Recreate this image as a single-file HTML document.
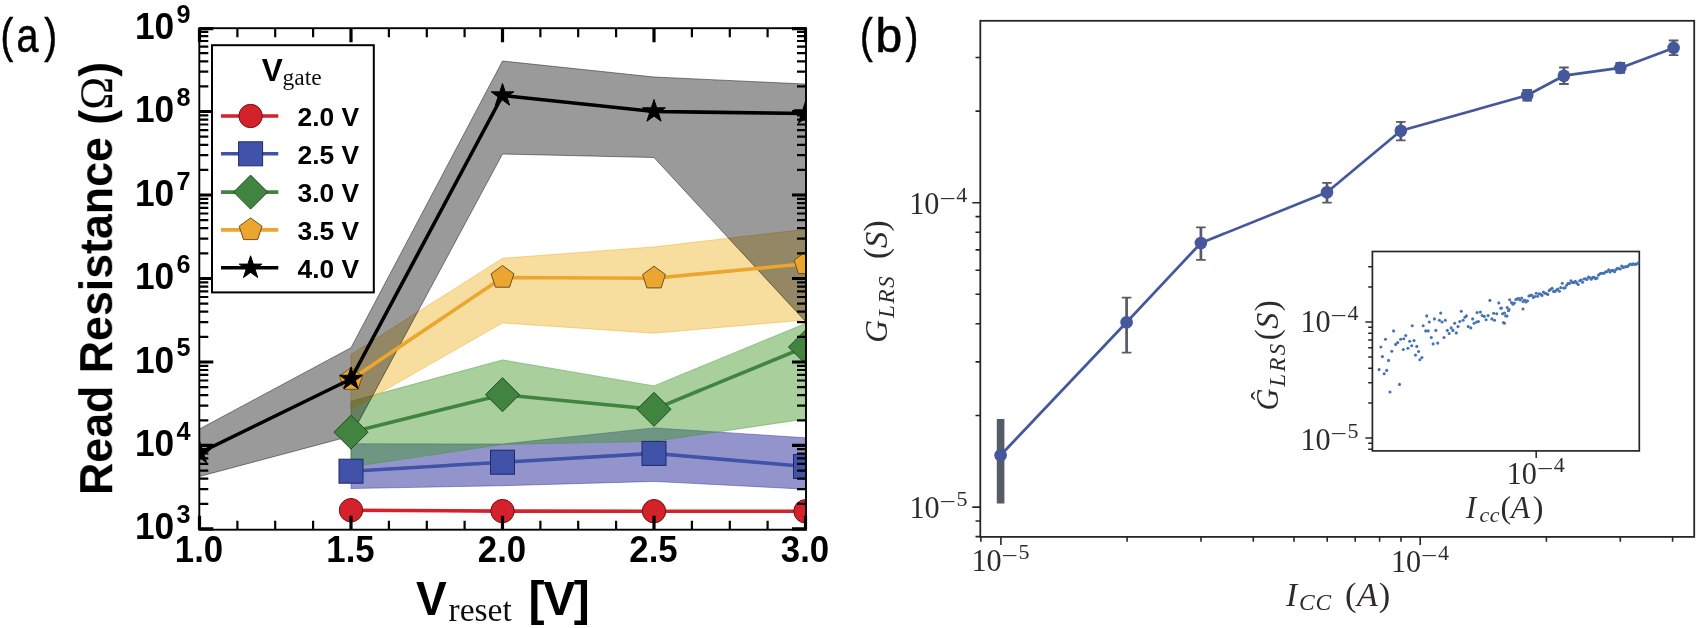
<!DOCTYPE html>
<html lang="en"><head><meta charset="utf-8"><title>Figure: read resistance vs reset voltage and LRS conductance vs compliance current</title>
<style>html,body{margin:0;padding:0;background:#fff;}body{width:1699px;height:628px;overflow:hidden;}svg{display:block;}text{white-space:pre;}</style>
</head><body>
<svg width="1699" height="628" viewBox="0 0 1699 628">
<rect x="0" y="0" width="1699" height="628" fill="#ffffff"/>
<defs><clipPath id="clipA"><rect x="199.3" y="28.2" width="606.7" height="501.5"/></clipPath>
<clipPath id="clipI"><rect x="1372.5" y="251.5" width="266.8" height="198.7"/></clipPath>
<filter id="soft" x="0" y="0" width="1699" height="628" filterUnits="userSpaceOnUse"><feGaussianBlur stdDeviation="0.55"/></filter></defs>
<g filter="url(#soft)">
<g font-family='"Liberation Sans", Arial, Helvetica, sans-serif' font-size="48" fill="#000" stroke="#000" stroke-width="0.6" stroke-linejoin="round"><text transform="translate(0.6,51.8) scale(0.8,1)">(</text><text transform="translate(16.6,51.8) scale(0.82,1)">a</text><text transform="translate(44.2,51.8) scale(0.8,1)">)</text></g>
<g clip-path="url(#clipA)">
<polygon points="351,443.8 502.5,444 654,427.9 805.5,437.8 805.5,489.2 654,481.4 502.5,485.7 351,488.5" fill="#2d2d9b" fill-opacity="0.5" stroke="#2d2d9b" stroke-opacity="0.45" stroke-width="1"/>
<polygon points="351,401.3 502.5,359.9 654,385.9 805.5,323.4 805.5,419 654,441.4 502.5,444.5 351,466.9" fill="#3e9727" fill-opacity="0.45" stroke="#3e9727" stroke-opacity="0.45" stroke-width="1"/>
<polygon points="351,354.4 502.5,258.3 654,246.9 805.5,229.3 805.5,319.9 654,333.2 502.5,322.9 351,409.5" fill="#ecae1d" fill-opacity="0.42" stroke="#ecae1d" stroke-opacity="0.45" stroke-width="1"/>
<polygon points="199.5,429 351,347.7 502.5,61 654,77 805.5,84 805.5,321.5 654,157.5 502.5,154 351,436 199.5,476.5" fill="#000000" fill-opacity="0.395" stroke="#000000" stroke-opacity="0.45" stroke-width="1"/>
<polyline points="351,510.2 502.5,511.1 654,511.2 805.5,511.3" fill="none" stroke="#d3202a" stroke-width="3.6" stroke-linejoin="round"/>
<circle cx="351" cy="510.2" r="11.7" fill="#d3202a" stroke="#6e1216" stroke-width="1.0"/>
<circle cx="502.5" cy="511.1" r="11.7" fill="#d3202a" stroke="#6e1216" stroke-width="1.0"/>
<circle cx="654" cy="511.2" r="11.7" fill="#d3202a" stroke="#6e1216" stroke-width="1.0"/>
<circle cx="805.5" cy="511.3" r="11.7" fill="#d3202a" stroke="#6e1216" stroke-width="1.0"/>
<polyline points="351,471.2 502.5,462.2 654,453.4 805.5,466.5" fill="none" stroke="#4152a8" stroke-width="3.6" stroke-linejoin="round"/>
<rect x="339" y="459.2" width="24" height="24" fill="#4152a8" stroke="#1f2a66" stroke-width="1.0"/>
<rect x="490.5" y="450.2" width="24" height="24" fill="#4152a8" stroke="#1f2a66" stroke-width="1.0"/>
<rect x="642" y="441.4" width="24" height="24" fill="#4152a8" stroke="#1f2a66" stroke-width="1.0"/>
<rect x="793.5" y="454.5" width="24" height="24" fill="#4152a8" stroke="#1f2a66" stroke-width="1.0"/>
<polyline points="351,432.2 502.5,394.7 654,409.3 805.5,347" fill="none" stroke="#40843f" stroke-width="3.6" stroke-linejoin="round"/>
<polygon points="351,415.2 368,432.2 351,449.2 334,432.2" fill="#40843f" stroke="#1d4a22" stroke-width="1.0"/>
<polygon points="502.5,377.7 519.5,394.7 502.5,411.7 485.5,394.7" fill="#40843f" stroke="#1d4a22" stroke-width="1.0"/>
<polygon points="654,392.3 671,409.3 654,426.3 637,409.3" fill="#40843f" stroke="#1d4a22" stroke-width="1.0"/>
<polygon points="805.5,330 822.5,347 805.5,364 788.5,347" fill="#40843f" stroke="#1d4a22" stroke-width="1.0"/>
<polyline points="351,379.6 502.5,277.5 654,278.2 805.5,263.8" fill="none" stroke="#eaa62d" stroke-width="3.6" stroke-linejoin="round"/>
<polygon points="351,367.6 362.4,375.9 358.1,389.3 343.9,389.3 339.6,375.9" fill="#eaa62d" stroke="#6b5223" stroke-width="1.0"/>
<polygon points="502.5,265.5 513.9,273.8 509.6,287.2 495.4,287.2 491.1,273.8" fill="#eaa62d" stroke="#6b5223" stroke-width="1.0"/>
<polygon points="654,266.2 665.4,274.5 661.1,287.9 646.9,287.9 642.6,274.5" fill="#eaa62d" stroke="#6b5223" stroke-width="1.0"/>
<polygon points="805.5,251.8 816.9,260.1 812.6,273.5 798.4,273.5 794.1,260.1" fill="#eaa62d" stroke="#6b5223" stroke-width="1.0"/>
<polyline points="199.5,453 351,379 502.5,95.5 654,111.5 805.5,113.5" fill="none" stroke="#000000" stroke-width="3.6" stroke-linejoin="round"/>
<polygon points="199.5,441 202.2,449.3 210.9,449.3 203.9,454.4 206.6,462.7 199.5,457.6 192.4,462.7 195.1,454.4 188.1,449.3 196.8,449.3" fill="#000000" stroke="#000000" stroke-width="1.0"/>
<polygon points="351,367 353.7,375.3 362.4,375.3 355.4,380.4 358.1,388.7 351,383.6 343.9,388.7 346.6,380.4 339.6,375.3 348.3,375.3" fill="#000000" stroke="#000000" stroke-width="1.0"/>
<polygon points="502.5,83.5 505.2,91.8 513.9,91.8 506.9,96.9 509.6,105.2 502.5,100.1 495.4,105.2 498.1,96.9 491.1,91.8 499.8,91.8" fill="#000000" stroke="#000000" stroke-width="1.0"/>
<polygon points="654,99.5 656.7,107.8 665.4,107.8 658.4,112.9 661.1,121.2 654,116.1 646.9,121.2 649.6,112.9 642.6,107.8 651.3,107.8" fill="#000000" stroke="#000000" stroke-width="1.0"/>
<polygon points="805.5,101.5 808.2,109.8 816.9,109.8 809.9,114.9 812.6,123.2 805.5,118.1 798.4,123.2 801.1,114.9 794.1,109.8 802.8,109.8" fill="#000000" stroke="#000000" stroke-width="1.0"/>
</g>
<path d="M237.4 529.7v-9M237.4 28.2v9M275.2 529.7v-9M275.2 28.2v9M313.1 529.7v-9M313.1 28.2v9M388.9 529.7v-9M388.9 28.2v9M426.8 529.7v-9M426.8 28.2v9M464.6 529.7v-9M464.6 28.2v9M540.4 529.7v-9M540.4 28.2v9M578.2 529.7v-9M578.2 28.2v9M616.1 529.7v-9M616.1 28.2v9M691.9 529.7v-9M691.9 28.2v9M729.8 529.7v-9M729.8 28.2v9M767.6 529.7v-9M767.6 28.2v9M199.3 503.8h9M806 503.8h-9M199.3 489.1h9M806 489.1h-9M199.3 478.6h9M806 478.6h-9M199.3 470.6h9M806 470.6h-9M199.3 463.9h9M806 463.9h-9M199.3 458.4h9M806 458.4h-9M199.3 453.5h9M806 453.5h-9M199.3 449.2h9M806 449.2h-9M199.3 420.3h9M806 420.3h-9M199.3 405.6h9M806 405.6h-9M199.3 395.2h9M806 395.2h-9M199.3 387.1h9M806 387.1h-9M199.3 380.5h9M806 380.5h-9M199.3 374.9h9M806 374.9h-9M199.3 370h9M806 370h-9M199.3 365.8h9M806 365.8h-9M199.3 336.8h9M806 336.8h-9M199.3 322.1h9M806 322.1h-9M199.3 311.7h9M806 311.7h-9M199.3 303.6h9M806 303.6h-9M199.3 297h9M806 297h-9M199.3 291.4h9M806 291.4h-9M199.3 286.6h9M806 286.6h-9M199.3 282.3h9M806 282.3h-9M199.3 253.4h9M806 253.4h-9M199.3 238.7h9M806 238.7h-9M199.3 228.2h9M806 228.2h-9M199.3 220.1h9M806 220.1h-9M199.3 213.5h9M806 213.5h-9M199.3 207.9h9M806 207.9h-9M199.3 203.1h9M806 203.1h-9M199.3 198.8h9M806 198.8h-9M199.3 169.9h9M806 169.9h-9M199.3 155.2h9M806 155.2h-9M199.3 144.8h9M806 144.8h-9M199.3 136.7h9M806 136.7h-9M199.3 130.1h9M806 130.1h-9M199.3 124.5h9M806 124.5h-9M199.3 119.6h9M806 119.6h-9M199.3 115.4h9M806 115.4h-9M199.3 86.4h9M806 86.4h-9M199.3 71.7h9M806 71.7h-9M199.3 61.3h9M806 61.3h-9M199.3 53.2h9M806 53.2h-9M199.3 46.6h9M806 46.6h-9M199.3 41h9M806 41h-9M199.3 36.2h9M806 36.2h-9M199.3 31.9h9M806 31.9h-9" stroke="#000" stroke-width="2.2" fill="none"/>
<path d="M199.5 529.7v-14M199.5 28.2v14M351 529.7v-14M351 28.2v14M502.5 529.7v-14M502.5 28.2v14M654 529.7v-14M654 28.2v14M805.5 529.7v-14M805.5 28.2v14M199.3 528.9h14M806 528.9h-14M199.3 445.4h14M806 445.4h-14M199.3 362h14M806 362h-14M199.3 278.5h14M806 278.5h-14M199.3 195h14M806 195h-14M199.3 111.5h14M806 111.5h-14M199.3 28.6h14M806 28.6h-14" stroke="#000" stroke-width="3.2" fill="none"/>
<rect x="199.3" y="28.2" width="606.7" height="501.5" fill="none" stroke="#000" stroke-width="1.9"/>
<g font-family='"Liberation Sans", Arial, Helvetica, sans-serif' font-weight="700" fill="#000">
<text transform="translate(135.0,539.3) scale(1.02,1.075)" font-size="34.6">10</text><text x="176.6" y="523.1" font-size="25.2">3</text>
<text transform="translate(135.0,455.9) scale(1.02,1.075)" font-size="34.6">10</text><text x="176.6" y="439.7" font-size="25.2">4</text>
<text transform="translate(135.0,372.5) scale(1.02,1.075)" font-size="34.6">10</text><text x="176.6" y="356.3" font-size="25.2">5</text>
<text transform="translate(135.0,289.1) scale(1.02,1.075)" font-size="34.6">10</text><text x="176.6" y="272.9" font-size="25.2">6</text>
<text transform="translate(135.0,205.7) scale(1.02,1.075)" font-size="34.6">10</text><text x="176.6" y="189.5" font-size="25.2">7</text>
<text transform="translate(135.0,122.3) scale(1.02,1.075)" font-size="34.6">10</text><text x="176.6" y="106.1" font-size="25.2">8</text>
<text transform="translate(135.0,38.9) scale(1.02,1.075)" font-size="34.6">10</text><text x="176.6" y="22.7" font-size="25.2">9</text>
<text transform="translate(199,561.9) scale(1,1.085)" font-size="34.8" text-anchor="middle">1.0</text>
<text transform="translate(350.5,561.9) scale(1,1.085)" font-size="34.8" text-anchor="middle">1.5</text>
<text transform="translate(502,561.9) scale(1,1.085)" font-size="34.8" text-anchor="middle">2.0</text>
<text transform="translate(653.5,561.9) scale(1,1.085)" font-size="34.8" text-anchor="middle">2.5</text>
<text transform="translate(805,561.9) scale(1,1.085)" font-size="34.8" text-anchor="middle">3.0</text>
</g>
<text transform="translate(112.2,495.0) rotate(-90) scale(0.962,1)" font-family='"Liberation Sans", Arial, Helvetica, sans-serif' font-weight="700" font-size="46.5" fill="#000">Read Resistance (<tspan font-family='"Liberation Serif", "Times New Roman", Times, serif' font-weight="400" font-size="46">Ω</tspan>)</text>
<text transform="translate(416.1,614.6) scale(0.955,1)" font-family='"Liberation Sans", Arial, Helvetica, sans-serif' font-weight="700" font-size="48.3" fill="#000">V</text>
<text x="448.5" y="620.6" font-family='"Liberation Serif", "Times New Roman", Times, serif' font-size="33.5" fill="#111">reset</text>
<text x="528.6" y="614.6" font-family='"Liberation Sans", Arial, Helvetica, sans-serif' font-weight="700" font-size="48" letter-spacing="-1.4" fill="#000">[V]</text>
<rect x="212" y="45.2" width="161.8" height="247.2" fill="#fff" stroke="#000" stroke-width="2"/>
<text x="261.8" y="80.8" font-family='"Liberation Sans", Arial, Helvetica, sans-serif' font-weight="700" font-size="31.5" fill="#000">V</text>
<text x="282.6" y="84.8" font-family='"Liberation Serif", "Times New Roman", Times, serif' font-size="23.5" fill="#111">gate</text>
<path d="M221 116H278.3" stroke="#d3202a" stroke-width="3.6" fill="none"/>
<circle cx="250.6" cy="116" r="11.7" fill="#d3202a" stroke="#6e1216" stroke-width="1.0"/>
<text x="297.6" y="125.7" font-family='"Liberation Sans", Arial, Helvetica, sans-serif' font-weight="700" font-size="26.4" fill="#000">2.0 V</text>
<path d="M221 153.8H278.3" stroke="#4152a8" stroke-width="3.6" fill="none"/>
<rect x="238.6" y="141.8" width="24" height="24" fill="#4152a8" stroke="#1f2a66" stroke-width="1.0"/>
<text x="297.6" y="163.5" font-family='"Liberation Sans", Arial, Helvetica, sans-serif' font-weight="700" font-size="26.4" fill="#000">2.5 V</text>
<path d="M221 192.1H278.3" stroke="#40843f" stroke-width="3.6" fill="none"/>
<polygon points="250.6,175.1 267.6,192.1 250.6,209.1 233.6,192.1" fill="#40843f" stroke="#1d4a22" stroke-width="1.0"/>
<text x="297.6" y="201.8" font-family='"Liberation Sans", Arial, Helvetica, sans-serif' font-weight="700" font-size="26.4" fill="#000">3.0 V</text>
<path d="M221 229.9H278.3" stroke="#eaa62d" stroke-width="3.6" fill="none"/>
<polygon points="250.6,217.9 262,226.2 257.7,239.6 243.5,239.6 239.2,226.2" fill="#eaa62d" stroke="#6b5223" stroke-width="1.0"/>
<text x="297.6" y="239.6" font-family='"Liberation Sans", Arial, Helvetica, sans-serif' font-weight="700" font-size="26.4" fill="#000">3.5 V</text>
<path d="M221 267.8H278.3" stroke="#000000" stroke-width="3.6" fill="none"/>
<polygon points="250.6,255.8 253.3,264.1 262,264.1 255,269.2 257.7,277.5 250.6,272.4 243.5,277.5 246.2,269.2 239.2,264.1 247.9,264.1" fill="#000000" stroke="#000000" stroke-width="1.0"/>
<text x="297.6" y="277.5" font-family='"Liberation Sans", Arial, Helvetica, sans-serif' font-weight="700" font-size="26.4" fill="#000">4.0 V</text>
<g font-family='"Liberation Sans", Arial, Helvetica, sans-serif' font-size="48" fill="#000" stroke="#000" stroke-width="0.6" stroke-linejoin="round"><text transform="translate(860,51.8) scale(0.8,1)">(</text><text transform="translate(875.6,51.8) scale(1.0,1)">b</text><text transform="translate(905.6,51.8) scale(0.8,1)">)</text></g>
<path d="M1000.9 536.9v8M1127.1 536.9v4.8M1201 536.9v4.8M1253.3 536.9v4.8M1294 536.9v4.8M1327.2 536.9v4.8M1355.2 536.9v4.8M1379.6 536.9v4.8M1401 536.9v4.8M1420.2 536.9v8M1546.4 536.9v4.8M1620.3 536.9v4.8M1672.6 536.9v4.8M980.9 536.9v4.8M980.3 536.6h-4.8M980.3 521h-4.8M980.3 507.1h-8M980.3 415.5h-4.8M980.3 361.9h-4.8M980.3 323.8h-4.8M980.3 294.3h-4.8M980.3 270.2h-4.8M980.3 249.9h-4.8M980.3 232.2h-4.8M980.3 216.6h-4.8M980.3 202.7h-8M980.3 111.1h-4.8M980.3 57.5h-4.8" stroke="#26272b" stroke-width="1.6" fill="none"/>
<rect x="980.3" y="20.8" width="713.9" height="516.1" fill="none" stroke="#26272b" stroke-width="1.8"/>
<path d="M1000.6 418.9V503.4" stroke="#555b66" stroke-width="7.6" fill="none"/>
<path d="M1126.6 297.7V352.7M1200.9 227.3V259.9M1327 182.8V202.7M1400.8 121.9V140.4M1527.2 90V100.6M1563.9 67.5V84M1620.3 63V72.8M1673.6 40.5V55.2" stroke="#555b66" stroke-width="2.7" fill="none"/>
<path d="M1121.8 297.7h9.6M1121.8 352.7h9.6M1196.1 227.3h9.6M1196.1 259.9h9.6M1322.2 182.8h9.6M1322.2 202.7h9.6M1396 121.9h9.6M1396 140.4h9.6M1522.4 90h9.6M1522.4 100.6h9.6M1559.1 67.5h9.6M1559.1 84h9.6M1615.5 63h9.6M1615.5 72.8h9.6M1668.8 40.5h9.6M1668.8 55.2h9.6" stroke="#555b66" stroke-width="1.8" fill="none"/>
<polyline points="1000.6,455.2 1126.6,322.2 1200.9,243 1327,192.2 1400.8,130.8 1527.2,95.3 1563.9,75.7 1620.3,67.9 1673.6,47.9" fill="none" stroke="#44589b" stroke-width="2.7" stroke-linejoin="round"/>
<circle cx="1000.6" cy="455.2" r="6.3" fill="#44589b"/>
<circle cx="1126.6" cy="322.2" r="6.3" fill="#44589b"/>
<circle cx="1200.9" cy="243" r="6.3" fill="#44589b"/>
<circle cx="1327" cy="192.2" r="6.3" fill="#44589b"/>
<circle cx="1400.8" cy="130.8" r="6.3" fill="#44589b"/>
<circle cx="1527.2" cy="95.3" r="6.3" fill="#44589b"/>
<circle cx="1563.9" cy="75.7" r="6.3" fill="#44589b"/>
<circle cx="1620.3" cy="67.9" r="6.3" fill="#44589b"/>
<circle cx="1673.6" cy="47.9" r="6.3" fill="#44589b"/>
<g font-family='"Liberation Serif", "Times New Roman", Times, serif' fill="#2e2c2c"><text transform="translate(971.4,571.4) scale(1,1.06)" font-size="30.2">10</text><text x="1001.6" y="562.8" font-size="22" textLength="16.4" lengthAdjust="spacingAndGlyphs">−</text><text x="1018.4" y="559.4" font-size="22">5</text></g>
<g font-family='"Liberation Serif", "Times New Roman", Times, serif' fill="#2e2c2c"><text transform="translate(1390.9,571.6) scale(1,1.06)" font-size="30.2">10</text><text x="1421.1" y="563" font-size="22" textLength="16.4" lengthAdjust="spacingAndGlyphs">−</text><text x="1437.9" y="559.6" font-size="22">4</text></g>
<g font-family='"Liberation Serif", "Times New Roman", Times, serif' fill="#2e2c2c"><text transform="translate(909.4,518) scale(1,1.06)" font-size="30.2">10</text><text x="939.6" y="509.4" font-size="22" textLength="16.4" lengthAdjust="spacingAndGlyphs">−</text><text x="956.4" y="506" font-size="22">5</text></g>
<g font-family='"Liberation Serif", "Times New Roman", Times, serif' fill="#2e2c2c"><text transform="translate(909.2,214.3) scale(1,1.06)" font-size="30.2">10</text><text x="939.4" y="205.7" font-size="22" textLength="16.4" lengthAdjust="spacingAndGlyphs">−</text><text x="956.2" y="202.3" font-size="22">4</text></g>
<g font-family='"Liberation Serif", "Times New Roman", Times, serif' fill="#2e2c2c">
<text x="1286" y="605.7" font-size="33.5" font-style="italic">I</text>
<text x="1299" y="610.4" font-size="23.5" font-style="italic" letter-spacing="0.8">CC</text>
<text x="1345" y="605.7" font-size="34.5">(</text>
<text x="1357" y="605.7" font-size="34" font-style="italic">A</text>
<text x="1378.8" y="605.7" font-size="34.5">)</text>
</g>
<g transform="translate(887.3,342) rotate(-90)" font-family='"Liberation Serif", "Times New Roman", Times, serif' fill="#2e2c2c">
<text x="-0.8" y="0" font-size="31.5" font-style="italic">G</text>
<text x="24" y="7" font-size="23" font-style="italic" letter-spacing="1.7">LRS</text>
<text x="83" y="0" font-size="33.5">(</text>
<text x="94" y="0" font-size="32.5" font-style="italic">S</text>
<text x="110.5" y="0" font-size="33.5">)</text>
</g>
<path d="M1372.4 449.2h-4.2M1372.4 443.3h-4.2M1372.4 438h-7M1372.4 403.1h-4.2M1372.4 382.7h-4.2M1372.4 368.2h-4.2M1372.4 356.9h-4.2M1372.4 347.7h-4.2M1372.4 340h-4.2M1372.4 333.2h-4.2M1372.4 327.3h-4.2M1372.4 322h-7M1372.4 287.1h-4.2M1372.4 266.7h-4.2M1536.2 450.9v7" stroke="#26272b" stroke-width="1.5" fill="none"/>
<rect x="1372.4" y="251.5" width="266.9" height="199.4" fill="none" stroke="#26272b" stroke-width="1.7"/>
<g clip-path="url(#clipI)" fill="#4473b4">
<circle cx="1379.1" cy="369.6" r="1.55"/><circle cx="1384.2" cy="373.7" r="1.55"/><circle cx="1386.7" cy="370.4" r="1.55"/><circle cx="1390" cy="392" r="1.55"/><circle cx="1399.5" cy="384.4" r="1.55"/><circle cx="1382.4" cy="356.6" r="1.55"/><circle cx="1388.5" cy="360.4" r="1.55"/><circle cx="1380.9" cy="347" r="1.55"/><circle cx="1385.5" cy="339.3" r="1.55"/><circle cx="1391.8" cy="351.3" r="1.55"/><circle cx="1393.6" cy="330.9" r="1.55"/><circle cx="1395.7" cy="344.4" r="1.55"/><circle cx="1397.7" cy="342.6" r="1.55"/><circle cx="1400.7" cy="339.3" r="1.55"/><circle cx="1403.3" cy="349.5" r="1.55"/><circle cx="1403.8" cy="338.8" r="1.55"/><circle cx="1405.8" cy="335.5" r="1.55"/><circle cx="1407.9" cy="348.2" r="1.55"/><circle cx="1409.7" cy="341.3" r="1.55"/><circle cx="1412.2" cy="325.8" r="1.55"/><circle cx="1411.7" cy="345.7" r="1.55"/><circle cx="1414" cy="340.6" r="1.55"/><circle cx="1415.5" cy="355.1" r="1.55"/><circle cx="1416.8" cy="346.4" r="1.55"/><circle cx="1418.6" cy="351.5" r="1.55"/><circle cx="1419.8" cy="359.7" r="1.55"/><circle cx="1421.9" cy="357.6" r="1.55"/><circle cx="1423.2" cy="325.8" r="1.55"/><circle cx="1425.7" cy="330.9" r="1.55"/><circle cx="1426.7" cy="315.9" r="1.55"/><circle cx="1428.2" cy="330.9" r="1.55"/><circle cx="1429.3" cy="322" r="1.55"/><circle cx="1431.3" cy="337.5" r="1.55"/><circle cx="1433.1" cy="343.9" r="1.55"/><circle cx="1434.4" cy="318.9" r="1.55"/><circle cx="1435.9" cy="330.4" r="1.55"/><circle cx="1437.7" cy="343.1" r="1.55"/><circle cx="1439.4" cy="320.2" r="1.55"/><circle cx="1440.7" cy="313.1" r="1.55"/><circle cx="1442" cy="322" r="1.55"/><circle cx="1444" cy="337.5" r="1.55"/><circle cx="1445.3" cy="320.2" r="1.55"/><circle cx="1447.3" cy="330.4" r="1.55"/><circle cx="1449.1" cy="333.5" r="1.55"/><circle cx="1451.2" cy="327.9" r="1.55"/><circle cx="1452.9" cy="330.4" r="1.55"/><circle cx="1454.7" cy="323.3" r="1.55"/><circle cx="1456.3" cy="332.9" r="1.55"/><circle cx="1458" cy="326.6" r="1.55"/><circle cx="1459.8" cy="321.5" r="1.55"/><circle cx="1461.3" cy="311.3" r="1.55"/><circle cx="1463.1" cy="320.2" r="1.55"/><circle cx="1464.9" cy="317.2" r="1.55"/><circle cx="1466.4" cy="315.9" r="1.55"/><circle cx="1468.2" cy="326.6" r="1.55"/><circle cx="1470.8" cy="327.9" r="1.55"/><circle cx="1472.6" cy="318.9" r="1.55"/><circle cx="1474.1" cy="323.3" r="1.55"/><circle cx="1476.6" cy="322" r="1.55"/><circle cx="1477.1" cy="312.6" r="1.55"/><circle cx="1478.4" cy="321.5" r="1.55"/><circle cx="1480.4" cy="312.1" r="1.55"/><circle cx="1482.2" cy="315.6" r="1.55"/><circle cx="1484.3" cy="316.4" r="1.55"/><circle cx="1486.1" cy="319.7" r="1.55"/><circle cx="1488.1" cy="315.6" r="1.55"/><circle cx="1489.9" cy="300.4" r="1.55"/><circle cx="1491.9" cy="318.9" r="1.55"/><circle cx="1493.7" cy="313.3" r="1.55"/><circle cx="1494.5" cy="320.2" r="1.55"/><circle cx="1496.7" cy="313.8" r="1.55"/><circle cx="1498.8" cy="302.9" r="1.55"/><circle cx="1500.8" cy="308.2" r="1.55"/><circle cx="1502.6" cy="313.8" r="1.55"/><circle cx="1504.4" cy="323.3" r="1.55"/><circle cx="1505.7" cy="315.9" r="1.55"/><circle cx="1507.2" cy="307.5" r="1.55"/><circle cx="1508.5" cy="310.8" r="1.55"/><circle cx="1509.7" cy="299.8" r="1.55"/><circle cx="1511.5" cy="302.6" r="1.55"/><circle cx="1513" cy="304.3" r="1.55"/><circle cx="1514.4" cy="303" r="1.55"/><circle cx="1515.9" cy="299.5" r="1.55"/><circle cx="1517.3" cy="298.9" r="1.55"/><circle cx="1518.8" cy="298.6" r="1.55"/><circle cx="1520.2" cy="300" r="1.55"/><circle cx="1521.7" cy="298.1" r="1.55"/><circle cx="1523.1" cy="301.6" r="1.55"/><circle cx="1524.6" cy="300" r="1.55"/><circle cx="1526" cy="301.9" r="1.55"/><circle cx="1527.5" cy="300.7" r="1.55"/><circle cx="1528.9" cy="296" r="1.55"/><circle cx="1530.4" cy="295.4" r="1.55"/><circle cx="1531.8" cy="295.3" r="1.55"/><circle cx="1533.3" cy="297.5" r="1.55"/><circle cx="1534.7" cy="296.5" r="1.55"/><circle cx="1536.2" cy="293.2" r="1.55"/><circle cx="1537.6" cy="296.3" r="1.55"/><circle cx="1539.1" cy="293.8" r="1.55"/><circle cx="1540.5" cy="294.1" r="1.55"/><circle cx="1542" cy="295.4" r="1.55"/><circle cx="1543.4" cy="292" r="1.55"/><circle cx="1544.9" cy="293.2" r="1.55"/><circle cx="1546.3" cy="293.6" r="1.55"/><circle cx="1547.8" cy="294.4" r="1.55"/><circle cx="1549.2" cy="290.6" r="1.55"/><circle cx="1550.7" cy="289.3" r="1.55"/><circle cx="1552.1" cy="288.3" r="1.55"/><circle cx="1553.6" cy="291.4" r="1.55"/><circle cx="1555" cy="291.4" r="1.55"/><circle cx="1556.5" cy="290" r="1.55"/><circle cx="1557.9" cy="289" r="1.55"/><circle cx="1559.4" cy="291.3" r="1.55"/><circle cx="1560.8" cy="287.6" r="1.55"/><circle cx="1562.3" cy="283.3" r="1.55"/><circle cx="1563.7" cy="288.1" r="1.55"/><circle cx="1565.2" cy="287.7" r="1.55"/><circle cx="1566.6" cy="285.3" r="1.55"/><circle cx="1568.1" cy="283.3" r="1.55"/><circle cx="1569.5" cy="283.5" r="1.55"/><circle cx="1571" cy="280.7" r="1.55"/><circle cx="1572.4" cy="282.4" r="1.55"/><circle cx="1573.9" cy="282.6" r="1.55"/><circle cx="1575.3" cy="281.3" r="1.55"/><circle cx="1576.8" cy="282.9" r="1.55"/><circle cx="1578.2" cy="284.5" r="1.55"/><circle cx="1579.7" cy="280.7" r="1.55"/><circle cx="1581.1" cy="280" r="1.55"/><circle cx="1582.6" cy="282.3" r="1.55"/><circle cx="1584" cy="279" r="1.55"/><circle cx="1585.5" cy="278.7" r="1.55"/><circle cx="1586.9" cy="279.5" r="1.55"/><circle cx="1588.4" cy="277.1" r="1.55"/><circle cx="1589.8" cy="277.8" r="1.55"/><circle cx="1591.3" cy="279.3" r="1.55"/><circle cx="1592.7" cy="277.4" r="1.55"/><circle cx="1594.2" cy="277.4" r="1.55"/><circle cx="1595.6" cy="278.8" r="1.55"/><circle cx="1597.1" cy="278.1" r="1.55"/><circle cx="1598.5" cy="275.1" r="1.55"/><circle cx="1600" cy="273.8" r="1.55"/><circle cx="1601.4" cy="273.2" r="1.55"/><circle cx="1602.9" cy="273.2" r="1.55"/><circle cx="1604.3" cy="273.1" r="1.55"/><circle cx="1605.8" cy="271.7" r="1.55"/><circle cx="1607.2" cy="271.6" r="1.55"/><circle cx="1608.7" cy="269.7" r="1.55"/><circle cx="1610.1" cy="271.9" r="1.55"/><circle cx="1611.6" cy="270.6" r="1.55"/><circle cx="1613" cy="270.4" r="1.55"/><circle cx="1614.5" cy="271.8" r="1.55"/><circle cx="1615.9" cy="269.7" r="1.55"/><circle cx="1617.4" cy="268.4" r="1.55"/><circle cx="1618.8" cy="268.5" r="1.55"/><circle cx="1620.3" cy="269" r="1.55"/><circle cx="1621.7" cy="266" r="1.55"/><circle cx="1623.2" cy="267.4" r="1.55"/><circle cx="1624.6" cy="267" r="1.55"/><circle cx="1626.1" cy="266.6" r="1.55"/><circle cx="1627.5" cy="266.6" r="1.55"/><circle cx="1629" cy="265.1" r="1.55"/><circle cx="1630.4" cy="264" r="1.55"/><circle cx="1631.9" cy="264.7" r="1.55"/><circle cx="1633.3" cy="263.8" r="1.55"/><circle cx="1634.8" cy="264.5" r="1.55"/><circle cx="1636.2" cy="264.1" r="1.55"/><circle cx="1637.7" cy="263.5" r="1.55"/><circle cx="1639.1" cy="261.9" r="1.55"/><circle cx="1503.5" cy="322.5" r="1.55"/><circle cx="1501.5" cy="308" r="1.55"/><circle cx="1504.5" cy="313" r="1.55"/><circle cx="1507" cy="316" r="1.55"/><circle cx="1523" cy="309" r="1.55"/><circle cx="1509" cy="309.5" r="1.55"/>
</g>
<g font-family='"Liberation Serif", "Times New Roman", Times, serif' fill="#2e2c2c"><text transform="translate(1300.4,449.5) scale(1,1.06)" font-size="30.2">10</text><text x="1330.6" y="440.9" font-size="22" textLength="16.4" lengthAdjust="spacingAndGlyphs">−</text><text x="1347.4" y="437.5" font-size="22">5</text></g>
<g font-family='"Liberation Serif", "Times New Roman", Times, serif' fill="#2e2c2c"><text transform="translate(1300.4,331.8) scale(1,1.06)" font-size="30.2">10</text><text x="1330.6" y="323.2" font-size="22" textLength="16.4" lengthAdjust="spacingAndGlyphs">−</text><text x="1347.4" y="319.8" font-size="22">4</text></g>
<g font-family='"Liberation Serif", "Times New Roman", Times, serif' fill="#2e2c2c"><text transform="translate(1506.7,484.4) scale(1,1.06)" font-size="30.2">10</text><text x="1536.9" y="475.8" font-size="22" textLength="16.4" lengthAdjust="spacingAndGlyphs">−</text><text x="1553.7" y="472.4" font-size="22">4</text></g>
<g font-family='"Liberation Serif", "Times New Roman", Times, serif' fill="#2e2c2c">
<text x="1466" y="517.8" font-size="30.5" font-style="italic">I</text>
<text x="1479.6" y="521.6" font-size="22" font-style="italic" letter-spacing="0.3">cc</text>
<text x="1500.6" y="517.8" font-size="32">(</text>
<text x="1511" y="517.8" font-size="31" font-style="italic">A</text>
<text x="1532.8" y="517.8" font-size="32">)</text>
</g>
<g transform="translate(1278.3,409.8) rotate(-90)" font-family='"Liberation Serif", "Times New Roman", Times, serif' fill="#2e2c2c">
<text x="-0.8" y="0" font-size="30.5" font-style="italic">G</text>
<text x="9.5" y="-8.5" font-size="27">ˆ</text>
<text x="23" y="7" font-size="23" font-style="italic" letter-spacing="2.3">LRS</text>
<text x="69.5" y="0" font-size="33">(</text>
<text x="81" y="0" font-size="32" font-style="italic">S</text>
<text x="98.5" y="0" font-size="33">)</text>
</g>
</g>
</svg>
</body></html>
